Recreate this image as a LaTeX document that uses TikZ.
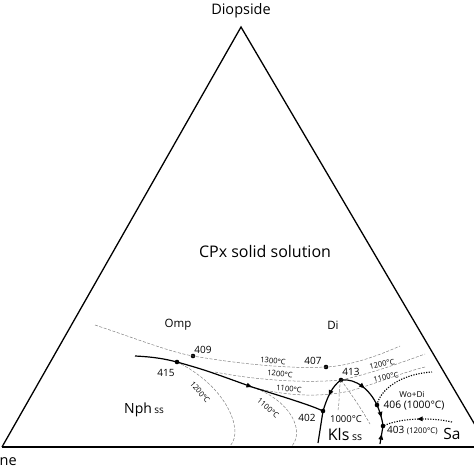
\documentclass[tikz,border=0pt]{standalone}
\usepackage{fontspec}
\setmainfont{Open Sans}
\usetikzlibrary{decorations.markings,arrows.meta}
\newcommand{\fs}[1]{\fontsize{#1}{#1}\selectfont}
\tikzset{
  tdot/.style={circle,fill=black,inner sep=0pt,minimum size=4.6pt},
  lbl/.style={inner sep=0pt,font=\fs{10}},
  tmp/.style={inner sep=0pt,font=\fs{7.6}},
  field/.style={inner sep=0pt,font=\fs{16}},
  iso/.style={gray,line width=0.5pt,dash pattern=on 3pt off 1.6pt},
  cot/.style={line width=1.2pt},
  dotl/.style={line width=1.1pt,dash pattern=on 1.2pt off 1.4pt},
  midarrow/.style={postaction={decorate,decoration={markings,mark=at position #1 with {\arrow{Triangle[length=5.5pt,width=4.5pt]}}}}}
}
\begin{document}
\begin{tikzpicture}[x=1pt,y=-1pt]
\useasboundingbox (0,0) rectangle (474,474);
\begin{scope}
\clip (0,0) rectangle (474,474);
% triangle
\coordinate (vD) at (241,27);
\coordinate (vN) at (2,447);
\coordinate (vS) at (488,447);
\draw[line width=1.3pt] (vN) -- (vD) -- (vS);
\draw[line width=2pt] (vN) -- (vS);
\node[inner sep=0pt,font=\fs{14.5}] (tD) at (241,11) {Diopside};
\node[inner sep=0pt,anchor=west,font=\fs{14.5}] (tN) at (-0.5,462) {ne};
\node[inner sep=0pt,font=\fs{16}] (tC) at (265,251) {CPx solid solution};
\node[inner sep=0pt,font=\fs{11.5}] (tO) at (178,325) {Omp};
\node[inner sep=0pt,font=\fs{11.5}] (tDi) at (333,325) {Di};

% points
\node[tdot] (p409) at (193,356) {};
\node[tdot] (p407) at (326,367) {};
\node[tdot] (p415) at (177,362) {};
\node[tdot] (p413) at (341,380) {};
\node[tdot] (p402) at (323,411) {};
\node[tdot] (p406) at (377,405) {};
\node[tdot] (p403) at (383,426) {};
\coordinate (a1) at (252,387);
\coordinate (c0) at (135,356);
\coordinate (c1) at (318,443);
\coordinate (c2) at (380,444);
\coordinate (c3) at (432,372);
\coordinate (c4) at (452,422);
\coordinate (c5) at (95,325);
\coordinate (c6) at (400,346);
\coordinate (c7) at (215,372);
\coordinate (c8) at (230,446);
\coordinate (c9) at (292,446);
\coordinate (c10) at (425,354);
\coordinate (c11) at (425,367);
\coordinate (c12) at (338,410);
\coordinate (c13) at (370,424);

% isotherms
\draw[iso] (c5) .. controls (140,340) and (170,352) .. (p409.center)
  .. controls (240,364) and (290,369) .. (p407.center)
  .. controls (350,366) and (380,355) .. (c6);
\draw[iso] (c7) .. controls (260,381) and (310,383) .. (p413.center);
\draw[iso] (p413.center) .. controls (365,375) and (395,365) .. (c10);
\draw[iso] (a1) .. controls (300,400) and (340,395) .. (360,388) .. controls (385,380) and (405,372) .. (c11);
\draw[iso] (p415.center) .. controls (225,385) and (245,430) .. (c8);
\draw[iso] (a1) .. controls (290,400) and (305,430) .. (c9);
\draw[iso] (p413.center) .. controls (338,392) and (340,400) .. (c12);
\draw[iso] (p413.center) .. controls (352,395) and (362,410) .. (c13);

% cotectic lines
\draw[cot] (c0) .. controls (155,357) and (165,359) .. (p415.center);
\draw[cot,midarrow=1] (p415.center) .. controls (205,370) .. (a1);
\draw[cot] (a1) .. controls (290,399) and (310,405) .. (p402.center);
\draw[cot] (p402.center) -- (c1);
\draw[cot,midarrow=0.55] (p413.center) .. controls (332,386) and (327,398) .. (p402.center);
\draw[cot,midarrow=0.55] (p413.center) .. controls (356,378) and (370,390) .. (p406.center);
\draw[cot,midarrow=0.6] (p406.center) .. controls (380,412) and (382,418) .. (p403.center);
\draw[cot,midarrow=0.55] (c2) -- (p403.center);

% dotted reaction lines
\draw[dotl] (p406.center) .. controls (380,390) and (400,374) .. (c3);
\draw[dotl,midarrow=0.5] (c4) .. controls (430,417) and (400,418) .. (p403.center);

% labels
\node[lbl] (l409) at (203,350) {409};
\node[lbl] (l407) at (313,361) {407};
\node[lbl] (l415) at (166,373) {415};
\node[lbl] (l413) at (351,372) {413};
\node[lbl] (l402) at (307,418) {402};
\node[lbl,font=\fs{9.5}] (l1000) at (346,419) {1000°C};
\node[lbl,font=\fs{8.2}] (lwo) at (412,395) {Wo+Di};
\node[lbl,font=\fs{10.3}] (l406) at (414,406) {406 (1000°C)};
\node[lbl,anchor=west] (l403) at (387,430) {403 {\fs{7.8}(1200°C)}};
\node[field] (lK) at (345,434) {Kls\,{\fs{10.5}ss}};
\node[field,font=\fs{14}] (lN) at (144,410) {Nph\,{\fs{10}ss}};
\node[field,font=\fs{15.5}] (lS) at (452,434) {Sa};
\node[tmp,rotate=-5] (t1) at (273,361) {1300°C};
\node[tmp,rotate=-5] (t2) at (280,374) {1200°C};
\node[tmp,rotate=-5] (t3) at (289,389) {1100°C};
\node[tmp,rotate=12] (t4) at (382,364) {1200°C};
\node[tmp,rotate=12] (t5) at (386,377) {1100°C};
\node[tmp,rotate=-50] (t6) at (200,392) {1200°C};
\node[tmp,rotate=-40] (t7) at (268,408) {1100°C};
\end{scope}
\end{tikzpicture}
\end{document}
